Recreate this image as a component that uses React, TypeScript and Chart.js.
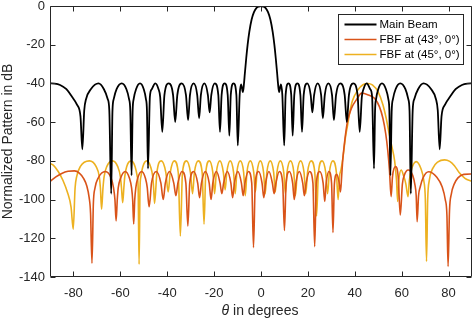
import React, { useEffect, useRef } from "react";
import { Chart, registerables } from "chart.js";

Chart.register(...registerables);

// Axis ticks
const X_TICKS = [-80, -60, -40, -20, 0, 20, 40, 60, 80];
const Y_TICKS = [-140, -120, -100, -80, -60, -40, -20, 0];

const SERIES_LABELS = ["Main Beam", "FBF at (43°, 0°)", "FBF at (45°, 0°)"];
const SERIES_COLORS = ["#000000", "#D95319", "#EDB120"];
const SERIES_WIDTHS = [1.8, 1.6, 1.6];

// [angle in degrees, normalized level in dB]
const mainBeam: [number, number][] = [
  [-90, -40], [-88, -40.1], [-85.7, -40.8], [-83, -43], [-80.7, -46.8], [-78.5, -51], [-77, -57], [-76.2, -74],
  [-75.4, -54], [-74.6, -48], [-72.6, -43], [-69.3, -40], [-67.0, -43], [-65.4, -48], [-64.7, -54], [-63.9, -97],
  [-63.35, -54], [-62.8, -48], [-61.6, -43], [-59.4, -40], [-57.4, -43], [-56.3, -48], [-55.75, -54], [-55.2, -87.5],
  [-54.75, -54], [-54.3, -48], [-53.3, -43], [-51.6, -40], [-50.0, -43], [-49.1, -48], [-48.65, -54], [-48.2, -84],
  [-47.4, -47], [-46.6, -43], [-45.1, -40], [-43.7, -43], [-43.0, -47], [-42.1, -65],
  [-41.2, -46], [-39.35, -40], [-37.5, -46], [-36.6, -60],
  [-35.7, -46], [-33.85, -40], [-32.0, -46], [-31.1, -59],
  [-30.3, -46], [-28.75, -40], [-27.2, -46], [-26.4, -58],
  [-25.65, -46], [-24.15, -40], [-22.65, -46], [-21.9, -55],
  [-21.2, -46], [-19.7, -40], [-18.2, -46], [-17.5, -65],
  [-16.8, -46], [-15.5, -40], [-14.2, -46], [-13.5, -67],
  [-12.9, -46], [-11.7, -40], [-10.5, -46], [-9.9, -72],
  [-9.1, -46], [-8.5, -40.5], [-7.7, -44.5], [-7.25, -40], [-6.9, -35], [-6.3, -27], [-5.7, -20], [-5, -13.5],
  [-4, -7], [-3, -3.2], [-2, -1.1], [-1, -0.3], [0, 0], [1, -0.3], [2, -1.1], [3, -3.2], [4, -7],
  [5, -13.5], [5.7, -20], [6.3, -27], [6.9, -35], [7.25, -40], [7.7, -44.5], [8.5, -40.5], [9.1, -46], [9.9, -72],
  [10.5, -46], [11.7, -40], [12.9, -46], [13.5, -67],
  [14.2, -46], [15.5, -40], [16.8, -46], [17.5, -65],
  [18.2, -46], [19.7, -40], [21.2, -46], [21.9, -55],
  [22.65, -46], [24.15, -40], [25.65, -46], [26.4, -58],
  [27.2, -46], [28.75, -40], [30.3, -46], [31.1, -59],
  [32.0, -46], [33.85, -40], [35.7, -46], [36.6, -60],
  [37.5, -46], [39.35, -40], [41.2, -46], [42.1, -65],
  [43.0, -47], [43.7, -43], [45.1, -40], [46.6, -43], [47.4, -47], [48.2, -84],
  [48.65, -54], [49.1, -48], [50.0, -43], [51.6, -40], [53.3, -43], [54.3, -48], [54.75, -54], [55.2, -87.5],
  [55.75, -54], [56.3, -48], [57.4, -43], [59.4, -40], [61.6, -43], [62.8, -48], [63.35, -54], [63.9, -97],
  [64.7, -54], [65.4, -48], [67.0, -43], [69.3, -40], [72.6, -43], [74.6, -48], [75.4, -54], [76.2, -74],
  [77, -57], [78.5, -51], [80.7, -46.8], [83, -43], [85.7, -40.8], [88, -40.1], [90, -40],
];

const fbf43: [number, number][] = [
  [-90, -90.7], [-87.5, -88.3], [-85, -86.5], [-82.3, -85.4], [-79.6, -85.2], [-77.5, -86.3], [-75.7, -89],
  [-74.3, -93], [-73.3, -99], [-72.7, -107], [-72.1, -132.9],
  [-71.5, -102], [-70.8, -94], [-69.5, -89], [-66.4, -85.5], [-63.9, -89], [-62.9, -94], [-62.3, -100], [-61.8, -111],
  [-61.3, -100], [-60.9, -94], [-59.9, -89], [-57.9, -85.5], [-56.1, -89], [-55.2, -94], [-54.75, -100], [-54.3, -112.6],
  [-53.85, -100], [-53.4, -94], [-52.6, -89], [-50.9, -85.5], [-49.3, -89], [-48.5, -94], [-48.1, -100], [-47.7, -103.7],
  [-46.7, -91.5], [-44.7, -85.5], [-42.7, -91.5], [-41.7, -100],
  [-40.8, -91.5], [-39.0, -85.5], [-37.2, -91.5], [-36.3, -98],
  [-35.45, -91.5], [-33.75, -85.5], [-32.05, -91.5], [-31.2, -113.6],
  [-30.4, -91.5], [-28.7, -85.5], [-27.0, -91.5], [-26.2, -99],
  [-25.4, -91.5], [-23.75, -85.5], [-22.1, -91.5], [-21.3, -100],
  [-20.55, -91.5], [-19.0, -85.5], [-17.45, -91.5], [-16.7, -97],
  [-15.95, -91.5], [-14.4, -85.5], [-12.85, -91.5], [-12.1, -99],
  [-11.35, -91.5], [-9.85, -85.5], [-8.35, -91.5], [-7.6, -98],
  [-6.85, -91.5], [-5.4, -85.5], [-3.95, -91.5], [-3.2, -124.8],
  [-2.45, -91.5], [-1.0, -85.5], [0.45, -91.5], [1.2, -99],
  [1.95, -91.5], [3.4, -85.5], [4.85, -91.5], [5.6, -97],
  [6.35, -91.5], [7.8, -85.5], [9.25, -91.5], [10.0, -116],
  [10.7, -91.5], [12.1, -85.5], [13.5, -91.5], [14.2, -100],
  [14.9, -91.5], [16.35, -85.5], [17.8, -91.5], [18.5, -98],
  [19.25, -91.5], [20.7, -85.5], [22.15, -91.5], [22.9, -124.3],
  [23.6, -91.5], [25.05, -85.5], [26.5, -91.5], [27.2, -101],
  [27.8, -91.5], [28.95, -85.5], [30.1, -91.5], [30.7, -117],
  [31.3, -92], [32.3, -87], [33.3, -91], [33.9, -96], [34.4, -88], [34.9, -79], [35.5, -72], [36.2, -65],
  [37, -59], [38.5, -53], [40.6, -48.6], [43, -45], [45.5, -45.8], [48.4, -47.7], [50.5, -52], [52, -58],
  [53.2, -66], [54.1, -75], [54.8, -85], [55.5, -98.5],
  [56.1, -88], [57.4, -83], [58.5, -88], [59.4, -108],
  [60.3, -92], [61.1, -87.5], [62.8, -84.7], [64.7, -87.5], [65.6, -92], [66.2, -98], [66.6, -111.4],
  [67.2, -98], [67.9, -93.5], [69.2, -88.5], [71.5, -85.6], [75, -88.5], [77.3, -93.5], [78.6, -100], [79.3, -108], [79.8, -134.6],
  [80.4, -106], [81.2, -97], [82.4, -92], [84, -88.8], [86.5, -87], [90, -86.8],
];

const fbf45: [number, number][] = [
  [-90, -81.3], [-88.5, -82.3], [-86.5, -85.5], [-84.5, -90], [-82.5, -96.5], [-81, -104], [-80.1, -115.3],
  [-79.3, -94], [-78.6, -88], [-77.1, -83], [-73.2, -80], [-70.3, -83], [-69.0, -88], [-68.5, -94], [-68.0, -105],
  [-67.4, -94], [-66.9, -88], [-65.8, -83], [-63.3, -80], [-61.1, -83], [-60.0, -88], [-59.5, -94], [-59.0, -101.6],
  [-58.5, -94], [-58.1, -88], [-57.3, -83], [-55.4, -80], [-53.7, -83], [-52.8, -88], [-52.4, -94], [-52.0, -133.4],
  [-51.6, -94], [-51.2, -88], [-50.4, -83], [-48.7, -80], [-47.1, -83], [-46.2, -88], [-45.8, -94], [-45.4, -102],
  [-44.4, -86], [-42.5, -80], [-40.6, -86], [-39.6, -96],
  [-38.7, -86], [-37.0, -80], [-35.3, -86], [-34.4, -118.8],
  [-33.5, -86], [-31.8, -80], [-30.1, -86], [-29.2, -97],
  [-28.4, -86], [-26.75, -80], [-25.1, -86], [-24.3, -112.6],
  [-23.55, -86], [-22.05, -80], [-20.55, -86], [-19.8, -97],
  [-19.05, -86], [-17.55, -80], [-16.05, -86], [-15.3, -95],
  [-14.6, -86], [-13.15, -80], [-11.7, -86], [-11.0, -97],
  [-10.3, -86], [-8.85, -80], [-7.4, -86], [-6.7, -98],
  [-6.0, -86], [-4.55, -80], [-3.1, -86], [-2.4, -96],
  [-1.7, -86], [-0.3, -80], [1.1, -86], [1.8, -97],
  [2.5, -86], [3.95, -80], [5.4, -86], [6.1, -96],
  [6.8, -86], [8.25, -80], [9.7, -86], [10.4, -97],
  [11.1, -86], [12.55, -80], [14.0, -86], [14.7, -98],
  [15.45, -86], [16.9, -80], [18.35, -86], [19.1, -97],
  [19.85, -86], [21.4, -80], [22.95, -86], [23.7, -108.5],
  [24.5, -86], [26.05, -80], [27.6, -86], [28.4, -97],
  [29.15, -86], [30.65, -80], [32.15, -86], [32.9, -100],
  [33.5, -88], [34.1, -84.7], [35, -78], [36, -68], [37, -61], [37.7, -56], [39, -49], [41.3, -43.4],
  [43.5, -40.7], [45.5, -40], [47.5, -40.8], [50, -44.5], [52, -51], [53.4, -58], [54.5, -65], [55.7, -72],
  [57, -80], [57.8, -90], [58.3, -101],
  [58.8, -90], [59.8, -84.7], [60.9, -88], [61.8, -92], [62.7, -98.5],
  [63.3, -90], [64.3, -84], [66.2, -80.4], [68.2, -84], [69.4, -90], [70.1, -100], [70.6, -132],
  [71.1, -100], [71.8, -90], [73.2, -84], [75.5, -80.5], [78.3, -79.5], [80.5, -80.3], [82.5, -82.5],
  [84.5, -86], [87, -89], [90, -90.7],
];

const SERIES = [mainBeam, fbf43, fbf45];

const AXIS_COLOR = "#262626";
const FONT = "'Liberation Sans', Arial, Helvetica, sans-serif";

// Box frame with inward tick marks, axis titles and an in-plot legend
const decorPlugin = {
  id: "decor",
  afterDraw(chart: any) {
    const { ctx, chartArea: a, scales } = chart;
    const xs = scales.x;
    const ys = scales.y;
    const L = Math.round(a.left) + 0.5;
    const R = Math.round(a.right) - 0.5;
    const T = Math.round(a.top) + 0.5;
    const B = Math.round(a.bottom) - 0.5;
    const tick = 5;

    ctx.save();
    ctx.strokeStyle = AXIS_COLOR;
    ctx.lineWidth = 1;
    ctx.beginPath();
    ctx.rect(L, T, R - L, B - T);
    for (const v of X_TICKS) {
      const px = Math.round(xs.getPixelForValue(v)) + 0.5;
      ctx.moveTo(px, B);
      ctx.lineTo(px, B - tick);
      ctx.moveTo(px, T);
      ctx.lineTo(px, T + tick);
    }
    for (const v of Y_TICKS) {
      const py = Math.round(ys.getPixelForValue(v)) + 0.5;
      ctx.moveTo(L, py);
      ctx.lineTo(L + tick, py);
      ctx.moveTo(R, py);
      ctx.lineTo(R - tick, py);
    }
    ctx.stroke();

    // x axis title with an italic theta
    ctx.fillStyle = AXIS_COLOR;
    ctx.textBaseline = "alphabetic";
    ctx.textAlign = "left";
    const thetaFont = `italic 14px ${FONT}`;
    const restFont = `14px ${FONT}`;
    const theta = "θ";
    const rest = " in degrees";
    ctx.font = thetaFont;
    const w1 = ctx.measureText(theta).width;
    ctx.font = restFont;
    const w2 = ctx.measureText(rest).width;
    const cx = (a.left + a.right) / 2 - 1;
    const startX = cx - (w1 + w2) / 2;
    ctx.font = thetaFont;
    ctx.fillText(theta, startX, 315);
    ctx.font = restFont;
    ctx.fillText(rest, startX + w1, 315);

    // y axis title
    ctx.save();
    ctx.translate(12, (a.top + a.bottom) / 2);
    ctx.rotate(-Math.PI / 2);
    ctx.textAlign = "center";
    ctx.font = restFont;
    ctx.fillText("Normalized Pattern in dB", 0, 0);
    ctx.restore();

    // legend
    const lx = 338.5, ly = 14.5, lw = 125, lh = 50;
    ctx.fillStyle = "#ffffff";
    ctx.fillRect(lx, ly, lw, lh);
    ctx.strokeStyle = AXIS_COLOR;
    ctx.strokeRect(lx, ly, lw, lh);
    ctx.font = `11.5px ${FONT}`;
    ctx.textBaseline = "middle";
    ctx.textAlign = "left";
    SERIES_LABELS.forEach((label, i) => {
      const y = 24.5 + i * 15;
      ctx.strokeStyle = SERIES_COLORS[i];
      ctx.lineWidth = SERIES_WIDTHS[i];
      ctx.beginPath();
      ctx.moveTo(344.5, y);
      ctx.lineTo(376.5, y);
      ctx.stroke();
      ctx.fillStyle = "#000000";
      ctx.fillText(label, 379.5, y + 0.5);
    });
    ctx.restore();
  },
};

export default function App() {
  const canvasRef = useRef<HTMLCanvasElement | null>(null);

  useEffect(() => {
    const canvas = canvasRef.current;
    if (!canvas) return;
    const chart = new Chart(canvas, {
      type: "line",
      data: {
        datasets: SERIES.map((pts, i) => ({
          label: SERIES_LABELS[i],
          data: pts.map(([x, y]) => ({ x, y })),
          borderColor: SERIES_COLORS[i],
          backgroundColor: SERIES_COLORS[i],
          borderWidth: SERIES_WIDTHS[i],
          pointRadius: 0,
          fill: false,
          cubicInterpolationMode: "monotone" as const,
        })),
      },
      options: {
        responsive: false,
        animation: false,
        devicePixelRatio: 1,
        layout: { padding: { top: 6, right: 2, left: 0, bottom: 0 } },
        plugins: {
          legend: { display: false },
          tooltip: { enabled: false },
        },
        scales: {
          x: {
            type: "linear",
            min: -90,
            max: 90,
            grid: { display: false, drawTicks: false },
            border: { display: false },
            ticks: {
              padding: 9,
              color: AXIS_COLOR,
              font: { family: FONT, size: 13 },
              maxRotation: 0,
            },
            afterBuildTicks: (s: any) => {
              s.ticks = X_TICKS.map((v) => ({ value: v }));
            },
            afterFit: (s: any) => {
              s.height = 43;
              s.paddingLeft = 0;
              s.paddingRight = 0;
            },
          },
          y: {
            type: "linear",
            min: -140,
            max: 0,
            grid: { display: false, drawTicks: false },
            border: { display: false },
            ticks: {
              padding: 5,
              color: AXIS_COLOR,
              font: { family: FONT, size: 13 },
            },
            afterBuildTicks: (s: any) => {
              s.ticks = Y_TICKS.map((v) => ({ value: v }));
            },
            afterFit: (s: any) => {
              s.width = 50;
              s.paddingTop = 0;
              s.paddingBottom = 0;
            },
          },
        },
      },
      plugins: [decorPlugin],
    });
    return () => chart.destroy();
  }, []);

  return (
    <div style={{ position: "fixed", left: 0, top: 0, width: 474, height: 320, background: "#ffffff" }}>
      <canvas ref={canvasRef} width={474} height={320} style={{ width: 474, height: 320 }} />
    </div>
  );
}
